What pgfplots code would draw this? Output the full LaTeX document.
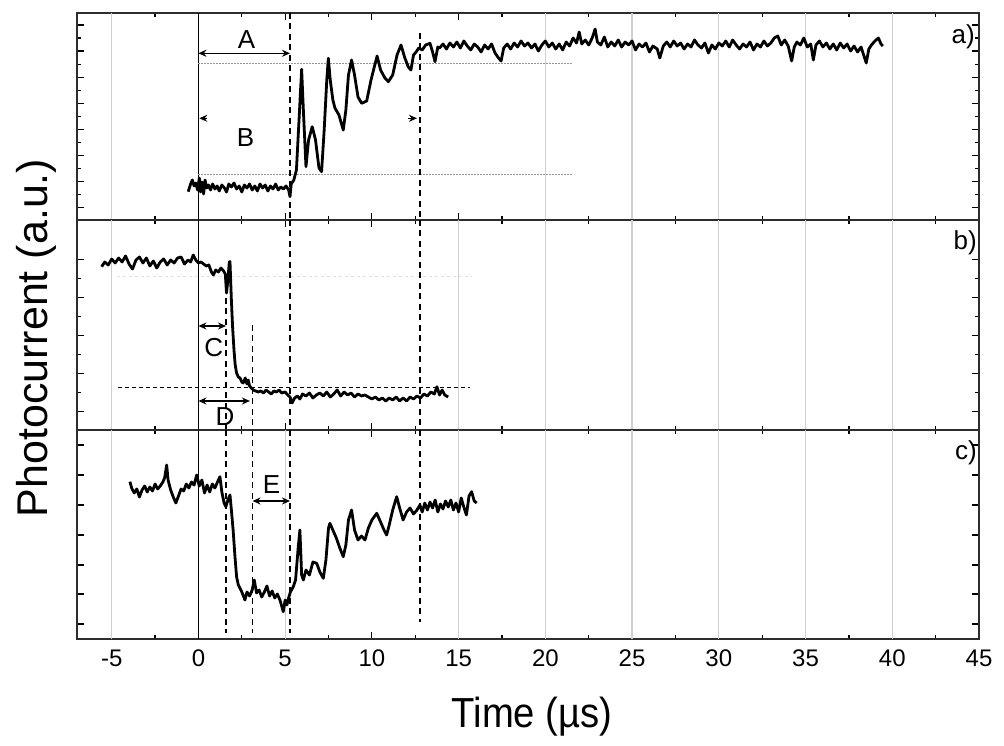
\documentclass[border=0pt]{standalone}
\usepackage{fontspec}
\setmainfont{Liberation Sans}
\usepackage{graphicx}
\usepackage{pgfplots}
\pgfplotsset{compat=1.18}
\usetikzlibrary{arrows.meta}

\definecolor{gridc}{RGB}{208,208,208}
\definecolor{dotc}{RGB}{150,150,150}
\definecolor{faintc}{RGB}{225,225,225}
\definecolor{framec}{RGB}{45,45,45}

\pgfplotsset{
 panel/.style={
   scale only axis, width=902pt, xmin=-7, xmax=45, y dir=reverse,
   axis line style={framec, line width=1.7pt},
   tick align=inside, xtick={-5,0,5,10,15,20,25,30,35,40,45},
   minor x tick num=1, minor y tick num=1,
   major tick length=7pt, minor tick length=4pt,
   tick style={black, line width=1.2pt},
   xticklabels={}, yticklabels={},
   anchor=south west,
 },
 curve/.style={black, line width=2.8pt, line join=round, no marks},
 vd/.style={black, line width=1.4pt, dash pattern=on 6pt off 4.5pt, no marks},
 grd/.style={gridc, line width=1.2pt, no marks},
 zero/.style={black, line width=1.1pt, no marks},
 arr/.style={black, line width=1.3pt, {Stealth[length=8pt,width=7pt]}-{Stealth[length=8pt,width=7pt]}, no marks},
 sarr/.style={black, line width=1pt, -{Stealth[length=8pt,width=7pt]}, no marks},
}
\newcommand{\labfont}{\fontsize{26}{26}\selectfont}

\begin{document}
\begin{tikzpicture}
\useasboundingbox (0,0) rectangle (1004pt,746pt);

% ---------------- panel a ----------------
\begin{axis}[panel, at={(77pt,526pt)}, height=207.3pt, ymin=12.7, ymax=220,
  ytick={25,51.1,77.2,103.3,129.4,155.5,181.6,207.7}]
\pgfplotsinvokeforeach{-5,20,25,30,35,40}{\addplot[grd] coordinates {(#1,12.7) (#1,220)};}
\addplot[zero] coordinates {(0,12.7) (0,220)};
\addplot[dotc, line width=1pt, dash pattern=on 1.5pt off 1.5pt, no marks] coordinates {(0,63.3) (21.6,63.3)};
\addplot[dotc, line width=1pt, dash pattern=on 1.5pt off 1.5pt, no marks] coordinates {(0,174.3) (21.6,174.3)};
\addplot[vd] coordinates {(5.28,12.7) (5.28,220)};
\addplot[vd] coordinates {(12.77,33) (12.77,220)};
\addplot[arr] coordinates {(0,53.3) (5.28,53.3)};
\addplot[sarr] coordinates {(0.5,118.3) (0.05,118.3)};
\addplot[sarr] coordinates {(12.1,118.3) (12.6,118.3)};
\node[font=\labfont, inner sep=0pt] at (axis cs:2.78,39.3) {A};
\node[font=\labfont, inner sep=0pt] at (axis cs:2.72,137.3) {B};
\addplot[curve] coordinates {
(-0.59,191.7) (-0.45,184) (-0.35,180) (-0.25,186) (-0.15,183) (-0.05,190) (0.05,178) (0.12,192) (0.2,182) (0.3,194)
(0.38,180) (0.48,188) (0.58,185) (0.7,190) (0.82,184) (0.95,189) (1.08,186) (1.2,191) (1.35,185) (1.5,188)
(1.62,192) (1.75,184) (1.9,187) (2.05,183) (2.2,189) (2.35,186) (2.5,192) (2.65,185) (2.8,188) (2.95,184)
(3.1,190) (3.25,186) (3.4,191) (3.55,184) (3.7,188) (3.85,185) (4.0,191) (4.15,186) (4.3,189) (4.45,184)
(4.6,190) (4.75,187) (4.9,189) (5.05,186) (5.2,190) (5.28,196.7) (5.35,184) (5.5,180) (5.65,170) (5.8,120)
(5.95,69.3) (6.05,110) (6.2,166.7) (6.35,140) (6.56,126.7) (6.75,140) (6.95,168) (7.1,171.7) (7.25,130) (7.4,80)
(7.49,58.3) (7.6,80) (7.75,100) (7.87,108) (8.1,115) (8.35,130) (8.5,110) (8.65,75) (8.83,60) (9.0,75)
(9.2,97) (9.41,103.3) (9.7,101) (9.95,80) (10.3,56) (10.5,70) (10.75,78) (10.95,81.7) (11.2,75) (11.45,55)
(11.68,45) (11.9,58) (12.1,67) (12.25,70) (12.4,55) (12.55,52) (12.7,48) (12.9,50) (13.1,45) (13.35,43.3)
(13.5,52) (13.64,61.7) (13.8,47)
(13.9,48) (14.1,44) (14.3,49) (14.5,43) (14.7,47) (14.9,42) (15.1,48) (15.3,41) (15.5,46) (15.7,50)
(15.9,44) (16.1,47) (16.3,52) (16.5,45) (16.7,49) (16.9,44) (17.1,53) (17.3,58) (17.45,61) (17.6,48)
(17.8,44) (18.0,49) (18.2,43) (18.4,47) (18.6,41) (18.8,46) (19.0,43) (19.2,48) (19.4,44) (19.6,51)
(19.8,45) (20.0,41) (20.2,47) (20.4,43) (20.6,49) (20.8,44) (21.0,50) (21.2,42) (21.4,46) (21.6,38)
(21.8,43) (21.95,32) (22.1,44) (22.3,40) (22.5,45) (22.7,38) (22.87,29) (23.0,42) (23.2,45) (23.4,37)
(23.6,47) (23.8,42) (24.0,46) (24.2,40) (24.4,47) (24.6,42) (24.8,45) (25.0,41) (25.2,50) (25.4,44)
(25.6,47) (25.8,43) (26.0,52) (26.2,46) (26.45,49) (26.6,58) (26.8,46) (27.0,42) (27.2,47) (27.4,41)
(27.6,46) (27.8,43) (28.0,49) (28.2,44) (28.4,47) (28.6,40) (28.8,45) (29.0,48) (29.2,43) (29.4,53)
(29.6,45) (29.8,49) (30.0,43) (30.2,46) (30.4,41) (30.6,47) (30.8,40) (31.0,45) (31.2,49) (31.4,44)
(31.6,47) (31.8,42) (32.0,50) (32.2,44) (32.4,47) (32.6,41) (32.8,46) (33.0,43) (33.2,38) (33.4,36)
(33.6,45) (33.8,40) (34.0,46) (34.2,61) (34.35,47) (34.5,42) (34.7,45) (34.9,38) (35.1,47) (35.3,44)
(35.45,60) (35.6,45) (35.8,41) (36.0,47) (36.2,43) (36.4,49) (36.6,44) (36.8,50) (37.0,43) (37.2,48)
(37.4,44) (37.6,51) (37.8,46) (38.0,52) (38.2,47) (38.35,55) (38.5,63) (38.65,49) (38.8,45) (39.0,41)
(39.2,38) (39.35,44) (39.46,46)
};
\end{axis}

% ---------------- panel b ----------------
\begin{axis}[panel, at={(77pt,316pt)}, height=210pt, ymin=220, ymax=430,
  ytick={259.3,297.4,335.5,373.6,411.7}]
\pgfplotsinvokeforeach{-5,15,20,25,30,35,40}{\addplot[grd] coordinates {(#1,220) (#1,430)};}
\addplot[zero] coordinates {(0,220) (0,430)};
\addplot[faintc, line width=1pt, dash pattern=on 3pt off 3pt, no marks] coordinates {(-4.7,276.7) (15.8,276.7)};
\addplot[black, line width=1.2pt, dash pattern=on 4pt off 3pt, no marks] coordinates {(-4.62,387.7) (15.66,387.7)};
\addplot[vd] coordinates {(1.59,277) (1.59,430)};
\addplot[vd] coordinates {(3.12,325) (3.12,430)};
\addplot[vd] coordinates {(5.28,220) (5.28,430)};
\addplot[vd] coordinates {(12.77,220) (12.77,430)};
\addplot[arr] coordinates {(0,326) (1.59,326)};
\addplot[arr] coordinates {(0,401) (2.97,401)};
\node[font=\labfont, inner sep=0pt] at (axis cs:0.89,347.3) {C};
\node[font=\labfont, inner sep=0pt] at (axis cs:1.53,417) {D};
\addplot[curve] coordinates {
(-5.58,266.7) (-5.4,262) (-5.2,265) (-5.0,259) (-4.8,263) (-4.6,258) (-4.4,262) (-4.2,256) (-4.0,264) (-3.8,269)
(-3.6,260) (-3.4,257) (-3.2,263) (-3.0,258) (-2.8,266) (-2.6,261) (-2.4,268) (-2.2,262) (-2.0,259) (-1.8,265)
(-1.6,260) (-1.4,263) (-1.2,258) (-1.0,257) (-0.8,264) (-0.6,260) (-0.45,262) (-0.3,255) (-0.15,260) (0.0,263)
(0.15,262) (0.3,264) (0.45,266) (0.6,265) (0.75,272) (0.86,275) (1.0,270) (1.15,272) (1.3,268) (1.45,271)
(1.55,274) (1.62,293) (1.7,280) (1.78,262) (1.82,261.7) (1.9,300) (1.97,327) (2.05,350) (2.12,365) (2.2,373)
(2.3,377) (2.4,378) (2.5,382) (2.58,383) (2.7,378) (2.8,384) (2.87,380) (2.95,386) (3.05,388) (3.16,390)
(3.3,391) (3.45,392) (3.6,391) (3.75,393) (3.9,390) (4.05,392) (4.2,394) (4.35,391) (4.5,392) (4.65,390)
(4.8,393) (5.0,392) (5.15,395) (5.28,397) (5.4,403) (5.55,398) (5.7,396) (5.85,399) (6.0,394) (6.2,396)
(6.4,393) (6.6,398) (6.8,395) (7.0,393) (7.2,396) (7.4,392) (7.6,397) (7.8,394) (8.0,390) (8.2,396)
(8.4,392) (8.6,395) (8.8,393) (9.0,397) (9.2,394) (9.4,396) (9.6,395) (9.8,397) (10.0,399) (10.2,397)
(10.4,400) (10.6,398) (10.8,401) (11.0,398) (11.2,400) (11.4,397) (11.6,401) (11.8,398) (12.0,401) (12.2,397)
(12.4,399) (12.6,396) (12.8,398) (13.0,394) (13.2,396) (13.4,392) (13.6,394) (13.75,386.7) (13.9,395) (14.05,390)
(14.2,395) (14.4,397)
};
\end{axis}

% ---------------- panel c ----------------
\begin{axis}[panel, at={(77pt,107pt)}, height=209pt, ymin=430, ymax=639,
  ytick={445,475,505,535,565,594,624},
  xticklabels={-5,0,5,10,15,20,25,30,35,40,45},
  xticklabel style={font=\fontsize{24}{24}\selectfont},
  xticklabel shift=7.5pt]
\pgfplotsinvokeforeach{-5,5,15,20,25,30,35,40}{\addplot[grd] coordinates {(#1,430) (#1,639)};}
\addplot[zero] coordinates {(0,430) (0,639)};
\addplot[vd] coordinates {(1.59,430) (1.59,633)};
\addplot[vd] coordinates {(3.12,430) (3.12,633)};
\addplot[vd] coordinates {(5.28,430) (5.28,633)};
\addplot[vd] coordinates {(12.77,430) (12.77,622)};
\addplot[arr] coordinates {(3.12,501) (5.28,501)};
\node[font=\labfont, inner sep=0pt] at (axis cs:4.22,485) {E};
\addplot[curve] coordinates {
(-3.95,481.7) (-3.85,488) (-3.7,493) (-3.55,489) (-3.4,497) (-3.25,490) (-3.1,486) (-2.95,492) (-2.8,487) (-2.65,491)
(-2.5,484) (-2.35,489) (-2.2,486) (-2.05,482) (-1.95,478) (-1.83,465) (-1.75,480) (-1.6,490) (-1.45,497) (-1.3,503)
(-1.15,496) (-1.0,489) (-0.85,491) (-0.7,484) (-0.55,488) (-0.4,482) (-0.25,485) (-0.1,475) (0.05,486) (0.2,480)
(0.35,493) (0.5,485) (0.65,492) (0.8,484) (0.95,488) (1.1,482) (1.24,476.7) (1.35,492) (1.48,503) (1.58,506.7)
(1.7,500) (1.82,495) (1.9,510) (2.0,530) (2.1,555) (2.2,576.7) (2.3,585) (2.45,590) (2.55,594) (2.68,600)
(2.8,592) (2.95,596) (3.1,590) (3.22,580) (3.35,593) (3.5,590) (3.65,597) (3.8,592) (3.95,586) (4.1,596)
(4.25,591) (4.4,598) (4.55,594) (4.7,600) (4.8,606) (4.89,611.7) (5.0,600) (5.1,605) (5.2,598) (5.3,592)
(5.47,586.7) (5.6,580) (5.75,548) (5.85,530) (5.95,575) (6.05,580) (6.2,570) (6.4,575) (6.6,562) (6.82,563.3)
(7.0,572) (7.2,578.3) (7.35,560) (7.5,528) (7.58,523.3) (7.75,530) (7.95,538) (8.15,548) (8.35,556.7) (8.5,545)
(8.65,520) (8.83,510) (9.0,530) (9.2,540) (9.4,536) (9.6,540) (9.8,528) (10.0,520) (10.28,513.3) (10.5,522)
(10.7,530) (10.85,535) (11.0,525) (11.2,510) (11.43,496.7) (11.6,508) (11.8,520) (12.0,512) (12.2,508) (12.4,514)
(12.6,510) (12.77,505) (12.9,512) (13.05,503) (13.2,510) (13.35,502) (13.5,508) (13.65,500) (13.8,512) (13.95,504)
(14.1,509) (14.25,501) (14.4,507) (14.55,500) (14.7,510) (14.85,503) (15.0,512) (15.15,498) (15.3,507) (15.45,515)
(15.6,496) (15.75,491.7) (15.9,501) (16.04,503)
};
\end{axis}

% ---------------- labels ----------------
\node[font=\labfont, inner sep=0pt, anchor=north east] at (975pt,722pt) {a)};
\node[font=\labfont, inner sep=0pt, anchor=north east] at (977pt,516pt) {b)};
\node[font=\labfont, inner sep=0pt, anchor=north east] at (977pt,306pt) {c)};
\node[font=\fontsize{43}{43}\selectfont, inner sep=0pt, rotate=90, anchor=base] at (47pt,408pt) {Photocurrent (a.u.)};
\node[font=\fontsize{42}{42}\selectfont, inner sep=0pt, anchor=base] at (532pt,18pt) {\scalebox{0.91}[1]{Time (µs)}};
\end{tikzpicture}
\end{document}
